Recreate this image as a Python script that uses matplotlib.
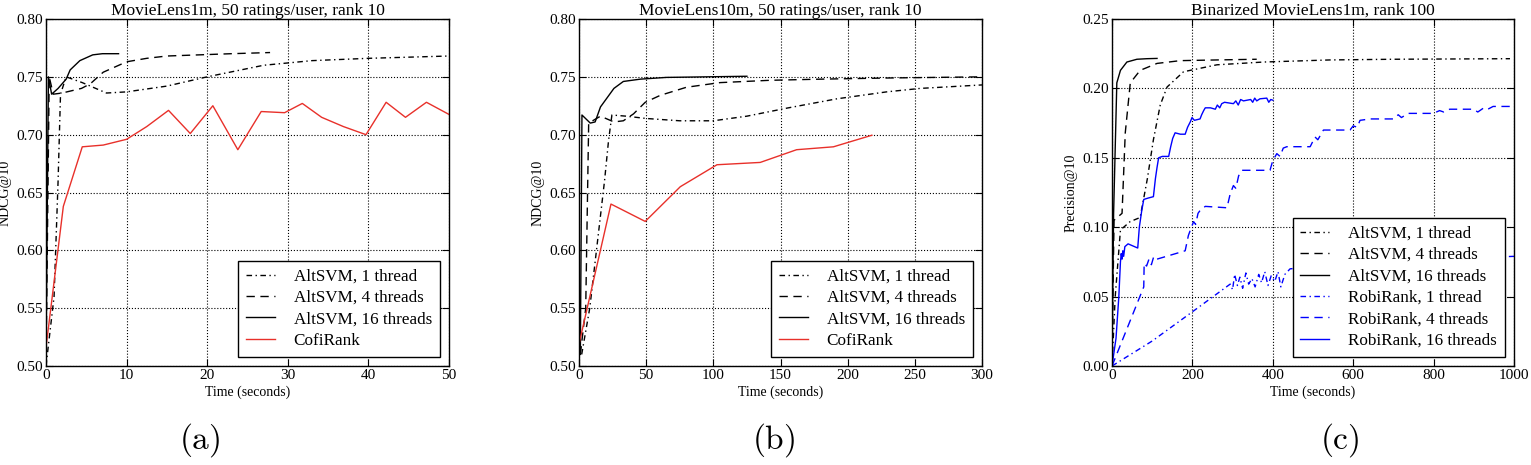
import numpy as np
import matplotlib
matplotlib.use("Agg")
import matplotlib.pyplot as plt

plt.rcParams['font.family'] = ['Liberation Serif', 'DejaVu Serif']
plt.rcParams['mathtext.fontset'] = 'cm'

# ---- panel (a): MovieLens1m, rank 10 ----
a_alt1 = [(0, 0.50), (1.0, 0.56), (1.5, 0.66), (1.8, 0.735), (2.5, 0.75), (4.5, 0.745),
          (7.5, 0.736), (10, 0.737), (15, 0.742), (20, 0.750), (27, 0.760), (33, 0.764),
          (40, 0.766), (50, 0.768)]
a_alt4 = [(0, 0.50), (0.4, 0.75), (0.9, 0.735), (2, 0.736), (4.4, 0.740), (5.5, 0.744),
          (7.1, 0.754), (10, 0.763), (12.5, 0.766), (15, 0.768), (19, 0.769), (23, 0.770),
          (27.8, 0.771)]
a_alt16 = [(0, 0.51), (0.3, 0.75), (0.7, 0.735), (1.5, 0.740), (2.5, 0.748), (3.0, 0.756),
           (4.2, 0.764), (5.8, 0.769), (7, 0.770), (9, 0.770)]
a_cofi = [(0, 0.516), (2.15, 0.638), (4.5, 0.6895), (7.1, 0.691), (10.0, 0.696), (12.5, 0.707),
          (15.2, 0.721), (17.9, 0.701), (20.7, 0.725), (23.8, 0.687), (26.7, 0.720),
          (29.6, 0.719), (31.8, 0.727), (34.2, 0.715), (36.9, 0.707), (39.7, 0.700),
          (42.2, 0.728), (44.6, 0.715), (47.2, 0.728), (50, 0.7175)]

# ---- panel (b): MovieLens10m, rank 10 ----
b_alt1 = [(2, 0.51), (8, 0.55), (14, 0.61), (19, 0.66), (22, 0.695), (24.5, 0.717),
          (35, 0.716), (50, 0.714), (75, 0.712), (100, 0.712), (125, 0.716), (155, 0.723),
          (192, 0.731), (229, 0.737), (254, 0.740), (300, 0.743)]
b_alt4 = [(1, 0.51), (5, 0.55), (7.2, 0.710), (16, 0.716), (26, 0.711), (33, 0.712),
          (40.6, 0.718), (49.3, 0.728), (60.5, 0.734), (80, 0.741), (105, 0.745),
          (142, 0.747), (180, 0.748), (230, 0.749), (300, 0.750)]
b_alt16 = [(1, 0.51), (2.2, 0.717), (8.4, 0.710), (12, 0.711), (16, 0.724), (26, 0.740),
           (33, 0.746), (45.6, 0.748), (65, 0.7495), (95, 0.750), (125, 0.7505)]
b_cofi = [(0, 0.519), (23.8, 0.640), (49.3, 0.625), (75.4, 0.655), (102.7, 0.674),
          (134.9, 0.676), (162, 0.687), (189.4, 0.6895), (218, 0.6995)]

# ---- panel (c): Binarized MovieLens1m, rank 100 ----
c_alt1 = [(0, 0.0), (8, 0.05), (21, 0.098), (45, 0.104), (70, 0.107), (88, 0.135),
          (103, 0.163), (120, 0.188), (137, 0.201), (178, 0.212), (261, 0.217),
          (377, 0.219), (542, 0.2205), (700, 0.221), (990, 0.2214)]
c_alt4 = [(0, 0.0), (5, 0.105), (25, 0.110), (33, 0.168), (45.5, 0.204), (70, 0.213),
          (112, 0.218), (170, 0.220), (261, 0.2205), (360, 0.221)]
c_alt16 = [(0, 0.004), (4, 0.11), (12, 0.204), (21, 0.213), (37, 0.219), (62, 0.221),
           (87, 0.2214), (112, 0.2216)]
c_rr1 = [(0, 0.0), (100, 0.018), (195, 0.038), (294, 0.059), (300, 0.055), (305, 0.066),
         (312, 0.058), (318, 0.064), (325, 0.056), (333, 0.067), (340, 0.059), (348, 0.063),
         (356, 0.057), (365, 0.066), (372, 0.060), (380, 0.068), (388, 0.058), (396, 0.065),
         (405, 0.061), (413, 0.068), (420, 0.057), (430, 0.066), (443, 0.070), (600, 0.074),
         (800, 0.077), (1000, 0.079)]
c_rr4 = [(0, 0.0), (79, 0.057), (80, 0.074), (86, 0.072), (92, 0.077), (98, 0.073),
         (104, 0.079), (112, 0.077), (182, 0.083), (190, 0.094), (195, 0.098), (203, 0.104),
         (208, 0.102), (214, 0.110), (219, 0.112), (232, 0.115), (286, 0.114), (294, 0.124),
         (302, 0.130), (308, 0.128), (315, 0.137), (323, 0.141), (393, 0.141), (400, 0.148),
         (410, 0.153), (418, 0.151), (426, 0.157), (435, 0.158), (493, 0.158), (505, 0.165),
         (512, 0.163), (526, 0.170), (592, 0.170), (600, 0.173), (610, 0.172), (617, 0.177),
         (642, 0.178), (700, 0.178), (712, 0.181), (720, 0.179), (737, 0.182), (799, 0.182),
         (815, 0.184), (825, 0.183), (840, 0.185), (899, 0.185), (910, 0.183), (925, 0.186),
         (935, 0.185), (948, 0.187), (990, 0.187)]
c_rr16 = [(0, 0.0), (10, 0.02), (17, 0.05), (21, 0.075), (23, 0.081), (25, 0.077),
          (27, 0.083), (29, 0.079), (32, 0.086), (40, 0.088), (64, 0.085), (68, 0.100),
          (74, 0.112), (79, 0.120), (90, 0.121), (103, 0.122), (108, 0.135), (112, 0.143),
          (116, 0.150), (125, 0.151), (141, 0.151), (146, 0.158), (151, 0.164), (157, 0.168),
          (170, 0.167), (182, 0.167), (188, 0.172), (195, 0.176), (199, 0.179), (205, 0.177),
          (219, 0.178), (223, 0.181), (228, 0.184), (232, 0.186), (245, 0.186), (257, 0.185),
          (262, 0.188), (268, 0.186), (273, 0.189), (280, 0.190), (302, 0.189), (308, 0.191),
          (314, 0.188), (320, 0.192), (327, 0.191), (345, 0.192), (350, 0.190), (355, 0.193),
          (360, 0.191), (368, 0.1925), (385, 0.193), (390, 0.190), (395, 0.192), (400, 0.1915)]

DASHDOT = (0, (4, 2.5, 1, 2.5))
DASHED = (0, (6, 4))
SOLID = '-'
RED = '#e8302a'
BLUE = '#0000ff'

fig = plt.figure(figsize=(15.31, 4.65), dpi=100)


def draw(ax, series, title, ylabel, xlim, ylim, xticks, yticks):
    for pts, ls, col, lab in series:
        arr = np.array(pts).T
        ax.plot(arr[0], arr[1], linestyle=ls, color=col, lw=1.0, label=lab)
    ax.set_xlim(*xlim)
    ax.set_ylim(*ylim)
    ax.set_xticks(xticks)
    ax.set_yticks(yticks)
    ax.set_yticklabels(['%.2f' % v for v in yticks])
    ax.set_title(title, fontsize=12.5, pad=3)
    ax.set_xlabel('Time (seconds)', fontsize=10, labelpad=3)
    ax.set_ylabel(ylabel, fontsize=10, labelpad=4)
    ax.grid(True, linestyle=':', color='black', lw=0.8)
    ax.tick_params(direction='in', top=True, right=True, length=5, labelsize=11, pad=2)
    for s in ax.spines.values():
        s.set_linewidth(1.0)
    leg = ax.legend(loc='lower right', fontsize=12.3, fancybox=False, edgecolor='black',
                    handlelength=1.7, handletextpad=1.1, labelspacing=0.32,
                    borderaxespad=0.55, borderpad=0.45)
    leg.get_frame().set_linewidth(1.0)
    leg.get_frame().set_alpha(1.0)


ax_a = fig.add_axes([46 / 1531, 99 / 465, 403 / 1531, 347 / 465])
draw(ax_a, [(a_alt1, DASHDOT, 'black', 'AltSVM, 1 thread'),
            (a_alt4, DASHED, 'black', 'AltSVM, 4 threads'),
            (a_alt16, SOLID, 'black', 'AltSVM, 16 threads'),
            (a_cofi, SOLID, RED, 'CofiRank')],
     'MovieLens1m, 50 ratings/user, rank 10', 'NDCG@10',
     (0, 50), (0.5, 0.8), [0, 10, 20, 30, 40, 50],
     [0.50, 0.55, 0.60, 0.65, 0.70, 0.75, 0.80])

ax_b = fig.add_axes([579 / 1531, 99 / 465, 403 / 1531, 347 / 465])
draw(ax_b, [(b_alt1, DASHDOT, 'black', 'AltSVM, 1 thread'),
            (b_alt4, DASHED, 'black', 'AltSVM, 4 threads'),
            (b_alt16, SOLID, 'black', 'AltSVM, 16 threads'),
            (b_cofi, SOLID, RED, 'CofiRank')],
     'MovieLens10m, 50 ratings/user, rank 10', 'NDCG@10',
     (0, 300), (0.5, 0.8), [0, 50, 100, 150, 200, 250, 300],
     [0.50, 0.55, 0.60, 0.65, 0.70, 0.75, 0.80])

ax_c = fig.add_axes([1112 / 1531, 99 / 465, 402 / 1531, 347 / 465])
draw(ax_c, [(c_alt1, DASHDOT, 'black', 'AltSVM, 1 thread'),
            (c_alt4, DASHED, 'black', 'AltSVM, 4 threads'),
            (c_alt16, SOLID, 'black', 'AltSVM, 16 threads'),
            (c_rr1, DASHDOT, BLUE, 'RobiRank, 1 thread'),
            (c_rr4, DASHED, BLUE, 'RobiRank, 4 threads'),
            (c_rr16, SOLID, BLUE, 'RobiRank, 16 threads')],
     'Binarized MovieLens1m, rank 100', 'Precision@10',
     (0, 1000), (0, 0.25), [0, 200, 400, 600, 800, 1000],
     [0.00, 0.05, 0.10, 0.15, 0.20, 0.25])

# subfigure labels
for xp, lab in [(200, '(a)'), (774, '(b)'), (1340, '(c)')]:
    fig.text(xp / 1531, 1 - 440 / 465, r'$\mathrm{%s}$' % lab, fontsize=24,
             ha='center', va='center')

fig.savefig('out.png', dpi=100)
